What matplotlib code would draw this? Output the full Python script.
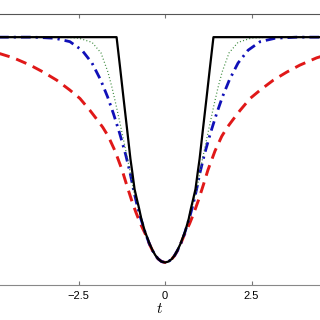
import matplotlib
matplotlib.use("Agg")
import matplotlib.pyplot as plt

# values (t, profile scaled 0 = minimum, 1 = plateau)
t_black = [-4.8, -1.40, -1.30, -1.20, -1.10, -1.00, -0.95, -0.88, -0.82, -0.75, -0.68, -0.58,
           -0.50, -0.45, -0.36, -0.28, -0.20, -0.10, 0.0, 0.10, 0.20, 0.28, 0.36, 0.45, 0.50,
           0.58, 0.68, 0.75, 0.82, 0.88, 0.95, 1.00, 1.10, 1.20, 1.30, 1.40, 4.8]
f_black = [1.0, 1.0, 0.867, 0.730, 0.596, 0.460, 0.405, 0.325, 0.285, 0.240, 0.190, 0.137,
           0.105, 0.084, 0.054, 0.032, 0.016, 0.004, 0.0, 0.004, 0.016, 0.032, 0.054, 0.084, 0.105,
           0.137, 0.190, 0.240, 0.285, 0.325, 0.405, 0.460, 0.596, 0.730, 0.867, 1.0, 1.0]

t_green = [-4.8, -3.0, -2.5, -2.11, -1.85, -1.65, -1.53, -1.41, -1.29, -1.18, -1.07, -0.91,
           -0.75, -0.58, -0.45, -0.36, -0.28, -0.20, -0.10, 0.0, 0.10, 0.20, 0.28, 0.36, 0.45,
           0.58, 0.75, 0.91, 1.07, 1.18, 1.29, 1.41, 1.53, 1.65, 1.85, 2.11, 2.5, 3.0, 4.8]
f_green = [1.0, 1.0, 0.996, 0.977, 0.930, 0.845, 0.775, 0.695, 0.610, 0.530, 0.450, 0.320,
           0.232, 0.135, 0.083, 0.053, 0.032, 0.016, 0.004, 0.0, 0.004, 0.016, 0.032, 0.053, 0.083,
           0.135, 0.232, 0.320, 0.450, 0.530, 0.610, 0.695, 0.775, 0.845, 0.930, 0.977, 0.996, 1.0, 1.0]

t_blue = [-4.8, -3.8, -3.18, -2.75, -2.40, -2.11, -1.86, -1.66, -1.49, -1.315, -1.14, -1.01,
          -0.92, -0.82, -0.71, -0.55, -0.45, -0.36, -0.28, -0.20, -0.10, 0.0, 0.10, 0.20, 0.28,
          0.36, 0.45, 0.55, 0.71, 0.82, 0.92, 1.01, 1.14, 1.315, 1.49, 1.66, 1.86, 2.11, 2.40,
          2.75, 3.18, 3.8, 4.8]
f_blue = [1.0, 1.0, 0.995, 0.980, 0.942, 0.885, 0.810, 0.735, 0.660, 0.575, 0.480, 0.398,
          0.330, 0.262, 0.200, 0.122, 0.082, 0.053, 0.032, 0.016, 0.004, 0.0, 0.004, 0.016, 0.032,
          0.053, 0.082, 0.122, 0.200, 0.262, 0.330, 0.398, 0.480, 0.575, 0.660, 0.735, 0.810, 0.885, 0.942,
          0.980, 0.995, 1.0, 1.0]

t_red = [-4.8, -4.38, -3.90, -3.52, -3.13, -2.75, -2.46, -2.17, -1.97, -1.80, -1.64, -1.445,
         -1.24, -1.11, -0.97, -0.84, -0.71, -0.55, -0.45, -0.36, -0.28, -0.20, -0.10, 0.0, 0.10,
         0.20, 0.28, 0.36, 0.45, 0.55, 0.71, 0.84, 0.97, 1.11, 1.24, 1.445, 1.64, 1.80, 1.97,
         2.17, 2.46, 2.75, 3.13, 3.52, 3.90, 4.38, 4.8]
f_red = [0.928, 0.908, 0.876, 0.845, 0.809, 0.765, 0.728, 0.675, 0.635, 0.600, 0.560, 0.495,
         0.410, 0.345, 0.278, 0.222, 0.172, 0.120, 0.081, 0.052, 0.031, 0.016, 0.004, 0.0, 0.004,
         0.016, 0.031, 0.052, 0.081, 0.120, 0.172, 0.222, 0.278, 0.345, 0.410, 0.495, 0.560, 0.600, 0.635,
         0.675, 0.728, 0.765, 0.809, 0.845, 0.876, 0.908, 0.928]

xticks = [-2.5, 0, 2.5]
xticklabels = ["\u22122.5", "0", "2.5"]

plt.rcParams["mathtext.fontset"] = "cm"

fig = plt.figure(figsize=(3.2, 3.2), dpi=100)
ax = fig.add_axes([0.0, 0.108, 1.0, 0.847])

ax.plot(t_red, f_red, color="#e01818", lw=2.1, ls=(0, (3.8, 2.4)))
ax.plot(t_blue, f_blue, color="#1010b8", lw=2.0, ls=(0, (3.5, 1.8, 0.8, 1.8)))
ax.plot(t_green, f_green, color="#3c8a3c", lw=0.9, ls=(0, (0.8, 1.8)))
ax.plot(t_black, f_black, color="black", lw=1.6)

ax.set_xlim(-4.77, 4.48)
ax.set_ylim(-0.102, 1.101)
ax.set_xticks(xticks)
ax.set_xticklabels(xticklabels, fontfamily="Liberation Sans", fontsize=8)
ax.set_yticks([])
ax.tick_params(axis="x", direction="in", top=True, length=3, color="#777777", width=0.8, pad=4)
for side in ["left", "right"]:
    ax.spines[side].set_visible(False)
ax.spines["top"].set_color("#555555")
ax.spines["bottom"].set_color("#888888")
ax.set_xlabel("$t$", fontsize=11, labelpad=0)

fig.savefig("out.png", dpi=100)
